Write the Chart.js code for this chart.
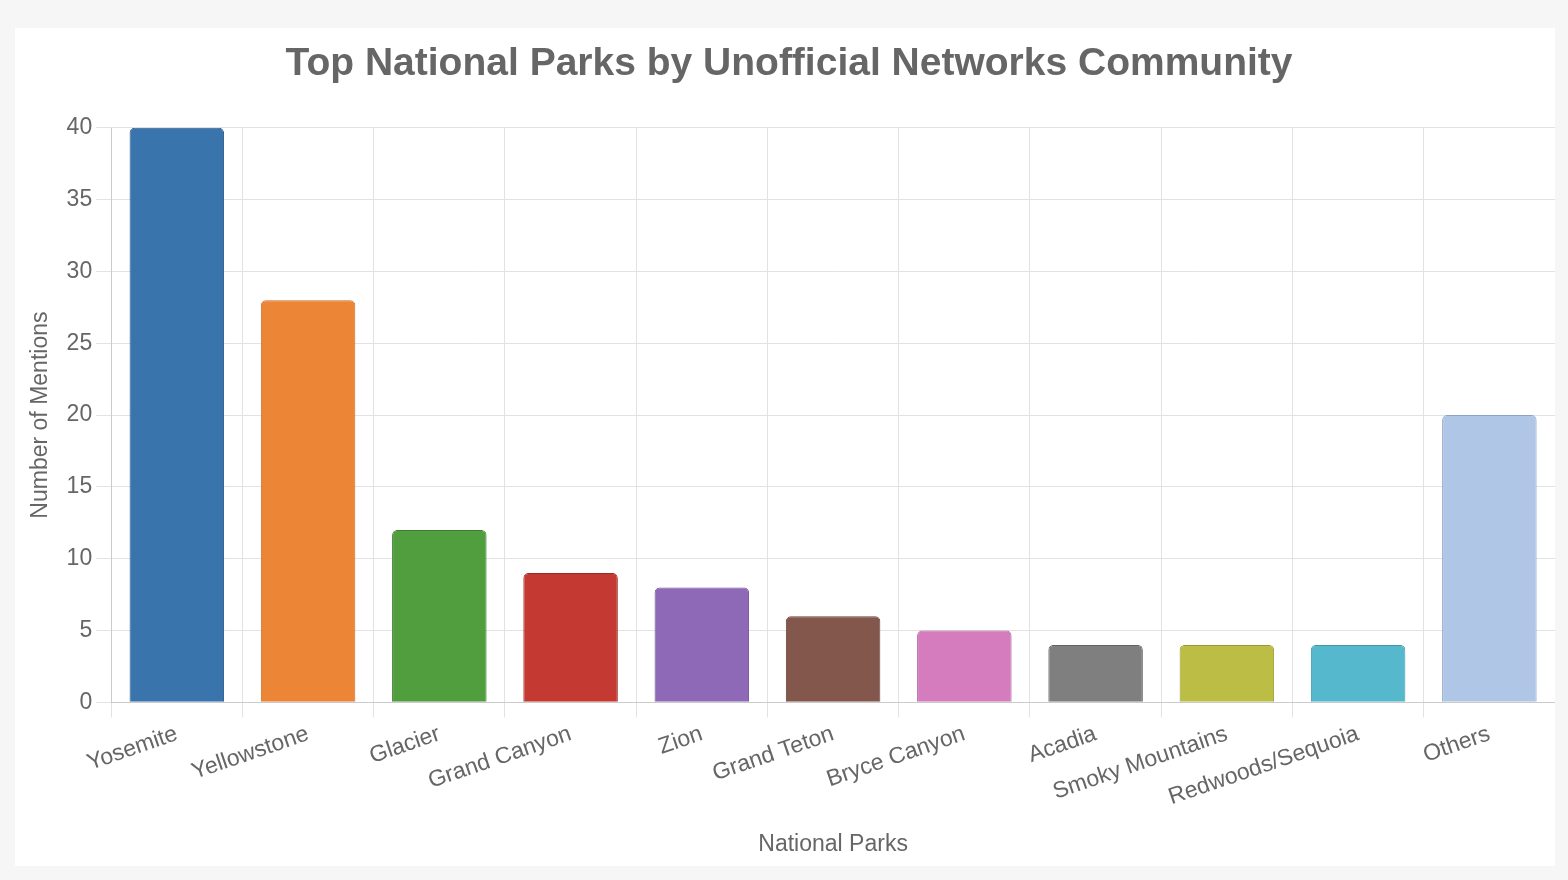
<!DOCTYPE html>
<html>
<head>
<meta charset="utf-8">
<script src="https://cdn.jsdelivr.net/npm/chart.js@4"></script>
<style>
  html, body { margin: 0; padding: 0; background: #f6f6f6; width: 1568px; height: 880px; overflow: hidden; }
  .card { position: absolute; left: 15px; top: 28px; width: 1540px; height: 838px; background: #fff; }
</style>
</head>
<body>
<div class="card"><canvas id="parksChart"></canvas></div>
<script>
var parks = ['Yosemite', 'Yellowstone', 'Glacier', 'Grand Canyon', 'Zion', 'Grand Teton',
  'Bryce Canyon', 'Acadia', 'Smoky Mountains', 'Redwoods/Sequoia', 'Others'];
var mentions = [40, 28, 12, 9, 8, 6, 5, 4, 4, 4, 20];
var barColors = ['#3a74ad', '#ec8535', '#519e3e', '#c43a32', '#8e69b8', '#84574d',
  '#d57cbe', '#7f7f7f', '#bcbd45', '#56b8cc', '#afc6e7'];
var borderColors = ['#2c5c8c', '#c86b24', '#3d7d2d', '#9c2a24', '#6f5096', '#66423a',
  '#b05e9c', '#636363', '#9a9b32', '#3f97aa', '#8aa3c6'];

Chart.defaults.font.family = '"Liberation Sans", Arial, sans-serif';
Chart.defaults.color = '#666';

var ctx = document.getElementById('parksChart').getContext('2d');
var parksChart = new Chart(ctx, {
    type: 'bar',
    data: {
        labels: parks,
        datasets: [{
            label: 'Mentions',
            data: mentions,
            backgroundColor: barColors,
            borderColor: borderColors,
            borderWidth: 1,
            borderRadius: 5
        }]
    },
    options: {
        responsive: true,
        maintainAspectRatio: false,
        animation: false,
        layout: { padding: { top: 9, left: 8, right: 0, bottom: 4 } },
        plugins: {
            legend: { display: false },
            title: {
                display: true,
                text: 'Top National Parks by Unofficial Networks Community',
                color: '#666',
                font: { size: 39, weight: 'bold' },
                padding: { top: 4, bottom: 40 }
            }
        },
        scales: {
            x: {
                grid: { color: '#e2e2e2', tickLength: 15 },
                ticks: { font: { size: 23 }, color: '#666', minRotation: 19, maxRotation: 19 },
                title: { display: true, text: 'National Parks', font: { size: 23 }, color: '#666', padding: { top: 16 } }
            },
            y: {
                beginAtZero: true,
                max: 40,
                grid: { color: '#e2e2e2', tickLength: 15 },
                ticks: { stepSize: 5, font: { size: 23 }, color: '#666', padding: 4 },
                title: { display: true, text: 'Number of Mentions', font: { size: 23 }, color: '#666', padding: { bottom: 8 } }
            }
        }
    }
});
</script>
</body>
</html>
